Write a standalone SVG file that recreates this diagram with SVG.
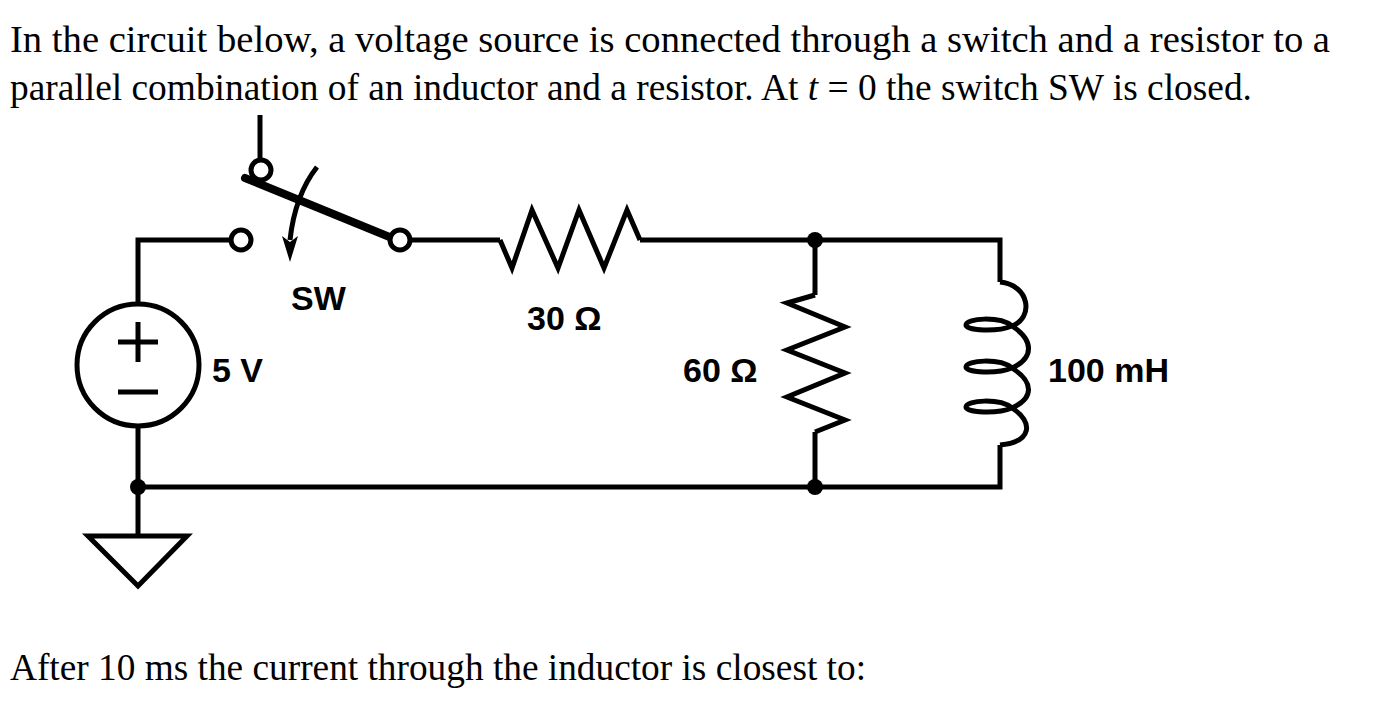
<svg xmlns="http://www.w3.org/2000/svg" width="1374" height="727" viewBox="0 0 1374 727">
<style>
.w{fill:none;stroke:#000;stroke-width:5;stroke-linejoin:miter;stroke-linecap:butt}
.t{font-family:"Liberation Serif",serif;font-size:37px;fill:#000}
.l{font-family:"Liberation Sans",Arial,sans-serif;font-weight:bold;font-size:34px;fill:#000}
.o{fill:#fff;stroke:#000;stroke-width:5}
</style>
<rect width="1374" height="727" fill="#fff"/>
<text class="t" x="10" y="52" textLength="1320" lengthAdjust="spacingAndGlyphs">In the circuit below, a voltage source is connected through a switch and a resistor to a</text>
<text class="t" x="10" y="100" textLength="1242" lengthAdjust="spacingAndGlyphs">parallel combination of an inductor and a resistor. At <tspan font-style="italic">t</tspan> = 0 the switch SW is closed.</text>
<text class="t" x="10" y="680" textLength="856" lengthAdjust="spacingAndGlyphs">After 10 ms the current through the inductor is closest to:</text>
<g id="connectors">
<path class="w" d="M231,240 H138 V304 M138,426 V487 H815 M815,487 H1000 V445 M1000,282 V240 H815 M410,240 H500 M640,240 H815 M815,240 V295 M815,432 V487 M138,487 V536"/>
</g>
<g id="source">
<circle cx="138" cy="365" r="61" class="w"/>
<path class="w" d="M118,342 H158 M138,322 V362 M118,392 H158"/>
<text class="l" x="212" y="382">5 V</text>
</g>
<g id="switch">
<path class="w" d="M260,115 V161"/>
<path d="M245,178 L392,238" stroke="#000" stroke-width="8" stroke-linecap="round" fill="none"/>
<circle cx="261" cy="170" r="10" class="o"/>
<circle cx="241" cy="240" r="10" class="o"/>
<circle cx="400" cy="240" r="10" class="o"/>
<path class="w" d="M317,167 Q295,195 290,240"/>
<path d="M282,236 L290,262 L298,236 L290,242 Z" fill="#000"/>
<text class="l" x="291" y="310">SW</text>
</g>
<g id="r30">
<path class="w" d="M500,240 L512,268 L532,210 L558,268 L579,210 L604,268 L627,210 L640,240"/>
<text class="l" x="527" y="330">30 Ω</text>
</g>
<g id="r60">
<path class="w" d="M815,295 L787,303 L845,327 L787,350 L845,373 L787,397 L845,420 L815,432"/>
<text class="l" x="683" y="382">60 Ω</text>
</g>
<g id="inductor">
<path class="w" d="M1000,282 C1030,285 1034,318 1012,326 C998,332 966,331 966,325 C966,318 1000,316 1012,326 C1034,340 1034,358 1012,368 C998,374 966,373 966,367 C966,360 1000,358 1012,368 C1034,382 1034,398 1012,408 C998,414 966,413 966,407 C966,400 1000,398 1012,408 C1034,422 1032,442 1000,445"/>
<text class="l" x="1048" y="382">100 mH</text>
</g>
<g id="junctions">
<circle cx="815" cy="240" r="8"/>
<circle cx="815" cy="487" r="8"/>
<circle cx="138" cy="487" r="8"/>
</g>
<g id="ground">
<path class="w" d="M88,536 H187 L138,586 Z"/>
</g>
</svg>
